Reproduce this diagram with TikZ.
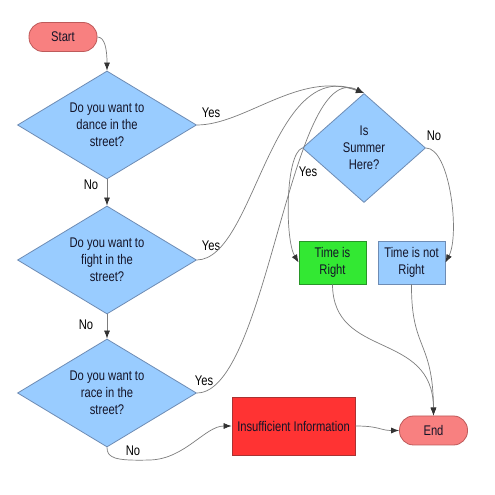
\documentclass[tikz,border=0pt]{standalone}
\usepackage{fontspec}
\setmainfont{Liberation Sans}[FakeStretch=0.8]
\usetikzlibrary{shapes.geometric,arrows.meta}
\definecolor{pinkfill}{RGB}{248,128,128}
\definecolor{pinkdraw}{RGB}{190,90,90}
\definecolor{bluefill}{RGB}{153,204,255}
\definecolor{bluedraw}{RGB}{110,140,180}
\definecolor{greenfill}{RGB}{51,232,51}
\definecolor{greendraw}{RGB}{40,150,40}
\definecolor{redfill}{RGB}{255,51,51}
\definecolor{reddraw}{RGB}{170,50,50}
\definecolor{linegray}{RGB}{125,125,125}
\definecolor{txt}{RGB}{20,20,40}
\begin{document}
\begin{tikzpicture}[x=1bp,y=1bp,
  every node/.style={font=\fontsize{14bp}{17bp}\selectfont, text=txt, align=center, inner sep=0pt},
  term/.style={draw=pinkdraw, fill=pinkfill, rounded corners=14bp, minimum width=68bp, minimum height=29bp, line width=0.8bp},
  decision/.style={diamond, draw=bluedraw, fill=bluefill, minimum width=179bp, minimum height=108bp, aspect=1.66, line width=0.8bp},
  smalldecision/.style={diamond, draw=bluedraw, fill=bluefill, minimum width=123bp, minimum height=109bp, aspect=1.13, line width=0.8bp},
  okbox/.style={draw=greendraw, fill=greenfill, minimum width=67bp, minimum height=43bp, line width=0.8bp},
  notbox/.style={draw=bluedraw, fill=bluefill, minimum width=67bp, minimum height=43bp, line width=0.8bp},
  insbox/.style={draw=reddraw, fill=redfill, minimum width=123bp, minimum height=58bp, line width=0.8bp},
  conn/.style={draw=linegray, line width=0.7bp, -{Latex[length=8bp,width=6bp,color=black!80]}},
  lbl/.style={text=black}
]
\useasboundingbox (0,0) rectangle (495,495);
\fill[white] (0,0) rectangle (495,495);
\node[term] (start) at (63,458) {Start};
\node[decision] (d1) at (107,370) {Do you want to\\dance in the\\street?};
\node[decision] (d2) at (107,235) {Do you want to\\fight in the\\street?};
\node[decision] (d3) at (107,102) {Do you want to\\race in the\\street?};
\node[smalldecision] (sum) at (364,347) {Is\\Summer\\Here?};
\node[okbox] (tr) at (332.5,232.5) {Time is\\Right};
\node[notbox] (tnr) at (411.5,232.5) {Time is not\\Right};
\node[insbox] (ins) at (293.5,69) {Insufficient Information};
\node[term] (fin) at (433.5,64.5) {End};

\node[lbl] (y1) at (211,382) {Yes};
\node[lbl] (n1) at (91,310) {No};
\node[lbl] (y2) at (211,249) {Yes};
\node[lbl] (n2) at (86,170) {No};
\node[lbl] (y3) at (204,114) {Yes};
\node[lbl] (n3) at (133,44) {No};
\node[lbl] (y4) at (308,323) {Yes};
\node[lbl] (n4) at (434,359) {No};

\draw[conn] (start.east) .. controls (105,458) and (107,445) .. (d1.north);
\draw[conn] (d1.south) -- (d2.north);
\draw[conn] (d2.south) -- (d3.north);
\draw[conn] (d1.east) .. controls (245,370) and (300,425) .. (sum.north);
\draw[conn] (d2.east) .. controls (255,236) and (270,440) .. (sum.north);
\draw[conn] (d3.east) .. controls (268,102) and (290,438) .. (sum.north);
\draw[conn] (d3.south) .. controls (107,37) and (115,34) .. (150,35) .. controls (185,36) and (205,69) .. (ins.west);
\draw[conn] (sum.west) .. controls (285,340) and (285,255) .. (tr.west);
\draw[conn] (sum.east) .. controls (450,347) and (460,260) .. (tnr.east);
\draw[conn] (tr.south) .. controls (333,135) and (433,165) .. (fin.north);
\draw[conn] (tnr.south) .. controls (411,145) and (433,155) .. (fin.north);
\draw[conn] (ins.east) .. controls (380,69) and (380,64.5) .. (fin.west);
\end{tikzpicture}
\end{document}
